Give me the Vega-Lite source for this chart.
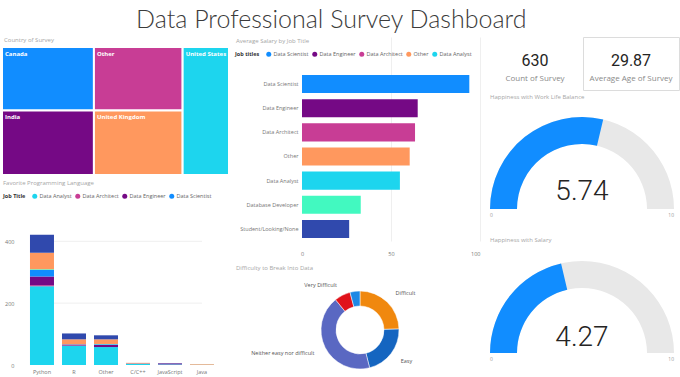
{
  "$schema": "https://vega.github.io/schema/vega-lite/v6.json",
  "padding": {"left": 1, "top": 7, "right": 0, "bottom": 0},
  "background": "white",
  "title": {"text": "Data Professional Survey Dashboard", "font": "Lato", "fontWeight": 300, "fontSize": 25, "color": "#3b3b3b", "anchor": "middle", "frame": "bounds", "offset": 4, "dx": -9},
  "spacing": 5,
  "resolve": {"scale": {"color": "independent", "theta": "independent"}, "legend": {"color": "independent"}},
  "config": {
    "view": {"stroke": null},
    "font": "Open Sans",
    "title": {"fontSize": 6, "fontWeight": "normal", "color": "#a6a6a6", "anchor": "start", "font": "Open Sans"},
    "axis": {"labelFont": "Open Sans", "labelFontSize": 5.5, "labelColor": "#777777", "domain": false, "ticks": false, "title": null, "gridColor": "#efefef"},
    "legend": {"labelFont": "Open Sans", "labelFontSize": 5.5, "labelColor": "#666666", "titleFont": "Open Sans", "titleFontSize": 5.5, "titleColor": "#333333", "titleFontWeight": "bold", "symbolType": "circle", "symbolSize": 25, "symbolStrokeWidth": 0, "columnPadding": 3, "labelOffset": 2, "titlePadding": 6, "orient": "none", "direction": "horizontal", "titleOrient": "left", "padding": 0}
  },
  "hconcat": [
    {
      "spacing": 4,
      "resolve": {"scale": {"color": "independent", "theta": "independent"}, "legend": {"color": "independent"}},
      "vconcat": [
        {
          "title": {"text": "Country of Survey", "offset": -6, "dx": 2, "frame": "group"},
          "width": 227,
          "height": 138,
          "data": {"values": [
            {"country": "Canada", "value": 57, "col": 1, "ord": 1},
            {"country": "India", "value": 58, "col": 1, "ord": 2},
            {"country": "Other", "value": 55, "col": 2, "ord": 1},
            {"country": "United Kingdom", "value": 56, "col": 2, "ord": 2},
            {"country": "United States", "value": 58, "col": 3, "ord": 1}
          ]},
          "transform": [
            {"joinaggregate": [{"op": "sum", "field": "value", "as": "colTotal"}], "groupby": ["col"]},
            {"window": [{"op": "row_number", "as": "idx"}], "groupby": ["col"], "sort": [{"field": "ord"}]},
            {"stack": "colTotal", "groupby": ["idx"], "sort": [{"field": "col"}], "as": ["x0", "x1"]},
            {"stack": "value", "groupby": ["col"], "sort": [{"field": "ord"}], "offset": "normalize", "as": ["y0", "y1"]}
          ],
          "encoding": {
            "x": {"field": "x0", "type": "quantitative", "scale": {"domain": [0, 284], "nice": false, "zero": false}, "axis": null},
            "y": {"field": "y0", "type": "quantitative", "scale": {"domain": [-0.078125, 1], "reverse": true, "nice": false, "zero": false}, "axis": null}
          },
          "layer": [
            {
              "mark": {"type": "rect", "stroke": "white", "strokeWidth": 2},
              "encoding": {
                "x2": {"field": "x1"},
                "y2": {"field": "y1"},
                "color": {"field": "country", "type": "nominal", "scale": {"domain": ["Canada", "Other", "United States", "India", "United Kingdom"], "range": ["#118DFF", "#C83D95", "#1DD5EE", "#750985", "#FF985E"]}, "legend": null}
              }
            },
            {
              "mark": {"type": "text", "align": "left", "baseline": "top", "dx": 3, "dy": 4, "color": "white", "fontWeight": "bold", "fontSize": 6},
              "encoding": {"text": {"field": "country"}}
            }
          ]
        },
        {
          "title": {"text": "Favorite Programming Language", "offset": -5, "dx": 1, "frame": "group"},
          "width": 217,
          "height": 184,
          "encoding": {
            "x": {"field": "lang", "type": "nominal", "sort": ["Python", "R", "Other", "C/C++", "JavaScript", "Java"], "scale": {"paddingInner": 0.25, "paddingOuter": 0.5156, "align": 0.848}, "axis": {"labelAngle": 0, "labelPadding": 4}}
          },
          "layer": [
            {
              "data": {"values": [{"g": 200}, {"g": 400}]},
              "mark": {"type": "rule", "color": "#efefef", "strokeWidth": 1},
              "encoding": {
                "x": {"datum": "Python"},
                "x2": {"datum": "Java"},
                "y": {"field": "g", "type": "quantitative"}
              }
            },
            {
              "data": {"values": [
                {"lang": "Python", "job": "Data Analyst", "count": 255},
                {"lang": "Python", "job": "Data Architect", "count": 3},
                {"lang": "Python", "job": "Data Engineer", "count": 28},
                {"lang": "Python", "job": "Data Scientist", "count": 21},
                {"lang": "Python", "job": "Database Developer", "count": 3},
                {"lang": "Python", "job": "Other", "count": 53},
                {"lang": "Python", "job": "Student/Looking/None", "count": 58},
                {"lang": "R", "job": "Data Analyst", "count": 62},
                {"lang": "R", "job": "Data Architect", "count": 1},
                {"lang": "R", "job": "Data Engineer", "count": 3},
                {"lang": "R", "job": "Data Scientist", "count": 1},
                {"lang": "R", "job": "Other", "count": 16},
                {"lang": "R", "job": "Student/Looking/None", "count": 19},
                {"lang": "Other", "job": "Data Analyst", "count": 58},
                {"lang": "Other", "job": "Data Engineer", "count": 7},
                {"lang": "Other", "job": "Data Scientist", "count": 2},
                {"lang": "Other", "job": "Database Developer", "count": 1},
                {"lang": "Other", "job": "Other", "count": 15},
                {"lang": "Other", "job": "Student/Looking/None", "count": 13},
                {"lang": "C/C++", "job": "Data Analyst", "count": 4},
                {"lang": "C/C++", "job": "Data Engineer", "count": 1},
                {"lang": "C/C++", "job": "Other", "count": 2},
                {"lang": "JavaScript", "job": "Data Analyst", "count": 2},
                {"lang": "JavaScript", "job": "Data Engineer", "count": 3},
                {"lang": "JavaScript", "job": "Student/Looking/None", "count": 1},
                {"lang": "Java", "job": "Data Analyst", "count": 1},
                {"lang": "Java", "job": "Other", "count": 2}
              ]},
              "mark": {"type": "bar"},
              "encoding": {
                "y": {"aggregate": "sum", "field": "count", "type": "quantitative", "scale": {"domain": [0, 595], "nice": false}, "axis": {"values": [0, 200, 400], "offset": -12, "labelPadding": 0, "grid": false}},
                "color": {"field": "job", "type": "nominal",
                  "scale": {"domain": ["Data Analyst", "Data Architect", "Data Engineer", "Data Scientist", "Database Developer", "Other", "Student/Looking/None"], "range": ["#1DD5EE", "#C83D95", "#750985", "#118DFF", "#42F9C0", "#FF985E", "#3049AD"]},
                  "legend": {"values": ["Data Analyst", "Data Architect", "Data Engineer", "Data Scientist"], "title": "Job Title", "legendX": 1, "legendY": 12}},
                "order": {"field": "job", "sort": "ascending"}
              }
            }
          ]
        }
      ]
    },
    {
      "spacing": 8,
      "resolve": {"scale": {"color": "independent", "theta": "independent"}, "legend": {"color": "independent"}},
      "vconcat": [
        {
          "title": {"text": "Average Salary by Job Title", "offset": -7, "dx": 1, "frame": "group"},
          "width": 245,
          "height": 204,
          "data": {"values": [
            {"job": "Data Scientist", "salary": 94},
            {"job": "Data Engineer", "salary": 65},
            {"job": "Data Architect", "salary": 63.5},
            {"job": "Other", "salary": 60.5},
            {"job": "Data Analyst", "salary": 55},
            {"job": "Database Developer", "salary": 33},
            {"job": "Student/Looking/None", "salary": 26.5}
          ]},
          "mark": {"type": "bar"},
          "encoding": {
            "y": {"field": "job", "type": "nominal", "sort": "-x", "scale": {"paddingInner": 0.25, "paddingOuter": 0.848, "align": 0.927}, "axis": {"offset": -63, "labelPadding": 0, "labelLimit": 100}},
            "x": {"field": "salary", "type": "quantitative", "scale": {"domain": [-37.64, 100], "nice": false, "zero": false}, "axis": {"values": [0, 50, 100], "grid": true, "gridColor": {"condition": {"test": "datum.value == 0", "value": "transparent"}, "value": "#efefef"}, "labelPadding": 10}},
            "color": {"field": "job", "type": "nominal",
              "scale": {"domain": ["Data Scientist", "Data Engineer", "Data Architect", "Other", "Data Analyst", "Database Developer", "Student/Looking/None"], "range": ["#118DFF", "#750985", "#C83D95", "#FF985E", "#1DD5EE", "#42F9C0", "#3049AD"]},
              "legend": {"values": ["Data Scientist", "Data Engineer", "Data Architect", "Other", "Data Analyst"], "title": "Job titles", "legendX": 0, "legendY": 14}}
          }
        },
        {
          "title": {"text": "Difficulty to Break Into Data", "offset": -6, "dx": 1, "frame": "group"},
          "width": 250,
          "height": 130,
          "data": {"values": [
            {"level": "Difficult", "count": 155, "ord": 1},
            {"level": "Easy", "count": 135, "ord": 2},
            {"level": "Neither easy nor difficult", "count": 272, "ord": 3},
            {"level": "Very Difficult", "count": 42, "ord": 4},
            {"level": "Very Easy", "count": 26, "ord": 5}
          ]},
          "encoding": {
            "theta": {"field": "count", "type": "quantitative", "stack": true},
            "order": {"field": "ord", "type": "quantitative"}
          },
          "layer": [
            {
              "mark": {"type": "arc", "innerRadius": 24, "outerRadius": 39, "stroke": "white", "strokeWidth": 0.5},
              "encoding": {
                "color": {"field": "level", "type": "nominal", "scale": {"domain": ["Difficult", "Easy", "Neither easy nor difficult", "Very Difficult", "Very Easy"], "range": ["#F0880E", "#1565C0", "#5A68C2", "#E0121A", "#1E88E5"]}, "legend": null}
              }
            },
            {
              "mark": {"type": "text", "radius": 51, "fontSize": 5.5, "color": "#555555", "align": {"expr": "datum.level == 'Difficult' || datum.level == 'Easy' ? 'left' : 'right'"}},
              "encoding": {
                "detail": {"field": "level", "type": "nominal"},
                "text": {"condition": {"test": "datum.level == 'Very Easy'", "value": ""}, "field": "level"}
              }
            }
          ]
        }
      ]
    },
    {
      "spacing": 3,
      "resolve": {"scale": {"color": "independent", "theta": "independent"}, "legend": {"color": "independent"}},
      "vconcat": [
        {
          "spacing": 2,
          "hconcat": [
            {
              "width": 90,
              "height": 53,
              "data": {"values": [{"metric": "Count of Survey", "value": 630}]},
              "layer": [
                {"mark": {"type": "text", "fontSize": 16, "font": "Roboto", "color": "#252423", "baseline": "alphabetic", "dy": 2}, "encoding": {"text": {"field": "value", "type": "quantitative", "format": "d"}}},
                {"mark": {"type": "text", "fontSize": 8, "color": "#8a8a8a", "baseline": "middle", "dy": 15}, "encoding": {"text": {"field": "metric"}}}
              ]
            },
            {
              "width": 96,
              "height": 53,
              "view": {"stroke": "#dcdcdc", "strokeWidth": 1},
              "data": {"values": [{"metric": "Average Age of Survey", "value": 29.87}]},
              "layer": [
                {"mark": {"type": "text", "fontSize": 16, "font": "Roboto", "color": "#252423", "baseline": "alphabetic", "dy": 2}, "encoding": {"text": {"field": "value", "type": "quantitative", "format": ".2f"}}},
                {"mark": {"type": "text", "fontSize": 8, "color": "#8a8a8a", "baseline": "middle", "dy": 15}, "encoding": {"text": {"field": "metric"}}}
              ]
            }
          ]
        },
        {
          "spacing": 19,
          "resolve": {"scale": {"color": "independent", "theta": "independent"}, "legend": {"color": "independent"}},
          "vconcat": [
            {
              "title": {"text": "Happiness with Work Life Balance", "offset": -5, "frame": "group"},
              "width": 184,
              "height": 114,
              "data": {"values": [{"part": "max", "lo": 0, "hi": 10}, {"part": "value", "lo": 0, "hi": 5.74}]},
              "layer": [
                {
                  "mark": {"type": "arc", "innerRadius": 65, "outerRadius": 92},
                  "encoding": {
                    "theta": {"field": "lo", "type": "quantitative", "scale": {"domain": [0, 10], "range": [-1.5708, 1.5708]}},
                    "theta2": {"field": "hi"},
                    "y": {"datum": 0, "type": "quantitative", "scale": {"domain": [0, 1]}, "axis": null},
                    "color": {"field": "part", "type": "nominal", "scale": {"domain": ["max", "value"], "range": ["#E8E8E8", "#118DFF"]}, "legend": null}
                  }
                },
                {
                  "transform": [{"filter": "datum.part == 'value'"}],
                  "mark": {"type": "text", "fontSize": 28, "font": "Roboto", "fontWeight": 300, "baseline": "alphabetic", "dy": -9, "color": "#252423"},
                  "encoding": {"text": {"field": "hi", "type": "quantitative", "format": ".2f"}, "y": {"datum": 0, "type": "quantitative"}}
                },
                {
                  "data": {"values": [{"tick": 0}, {"tick": 10}]},
                  "mark": {"type": "text", "fontSize": 5, "color": "#999999", "baseline": "top", "dy": 4, "align": {"expr": "datum.tick == 0 ? 'left' : 'right'"}},
                  "encoding": {"x": {"field": "tick", "type": "quantitative", "scale": {"domain": [0, 10], "nice": false}, "axis": null}, "y": {"datum": 0, "type": "quantitative"}, "text": {"field": "tick", "type": "quantitative"}}
                }
              ]
            },
            {
              "title": {"text": "Happiness with Salary", "offset": -5, "frame": "group"},
              "width": 184,
              "height": 115,
              "data": {"values": [{"part": "max", "lo": 0, "hi": 10}, {"part": "value", "lo": 0, "hi": 4.27}]},
              "layer": [
                {
                  "mark": {"type": "arc", "innerRadius": 65, "outerRadius": 92},
                  "encoding": {
                    "theta": {"field": "lo", "type": "quantitative", "scale": {"domain": [0, 10], "range": [-1.5708, 1.5708]}},
                    "theta2": {"field": "hi"},
                    "y": {"datum": 0, "type": "quantitative", "scale": {"domain": [0, 1]}, "axis": null},
                    "color": {"field": "part", "type": "nominal", "scale": {"domain": ["max", "value"], "range": ["#E8E8E8", "#118DFF"]}, "legend": null}
                  }
                },
                {
                  "transform": [{"filter": "datum.part == 'value'"}],
                  "mark": {"type": "text", "fontSize": 28, "font": "Roboto", "fontWeight": 300, "baseline": "alphabetic", "dy": -7, "color": "#252423"},
                  "encoding": {"text": {"field": "hi", "type": "quantitative", "format": ".2f"}, "y": {"datum": 0, "type": "quantitative"}}
                },
                {
                  "data": {"values": [{"tick": 0}, {"tick": 10}]},
                  "mark": {"type": "text", "fontSize": 5, "color": "#999999", "baseline": "top", "dy": 4, "align": {"expr": "datum.tick == 0 ? 'left' : 'right'"}},
                  "encoding": {"x": {"field": "tick", "type": "quantitative", "scale": {"domain": [0, 10], "nice": false}, "axis": null}, "y": {"datum": 0, "type": "quantitative"}, "text": {"field": "tick", "type": "quantitative"}}
                }
              ]
            }
          ]
        }
      ]
    }
  ]
}
